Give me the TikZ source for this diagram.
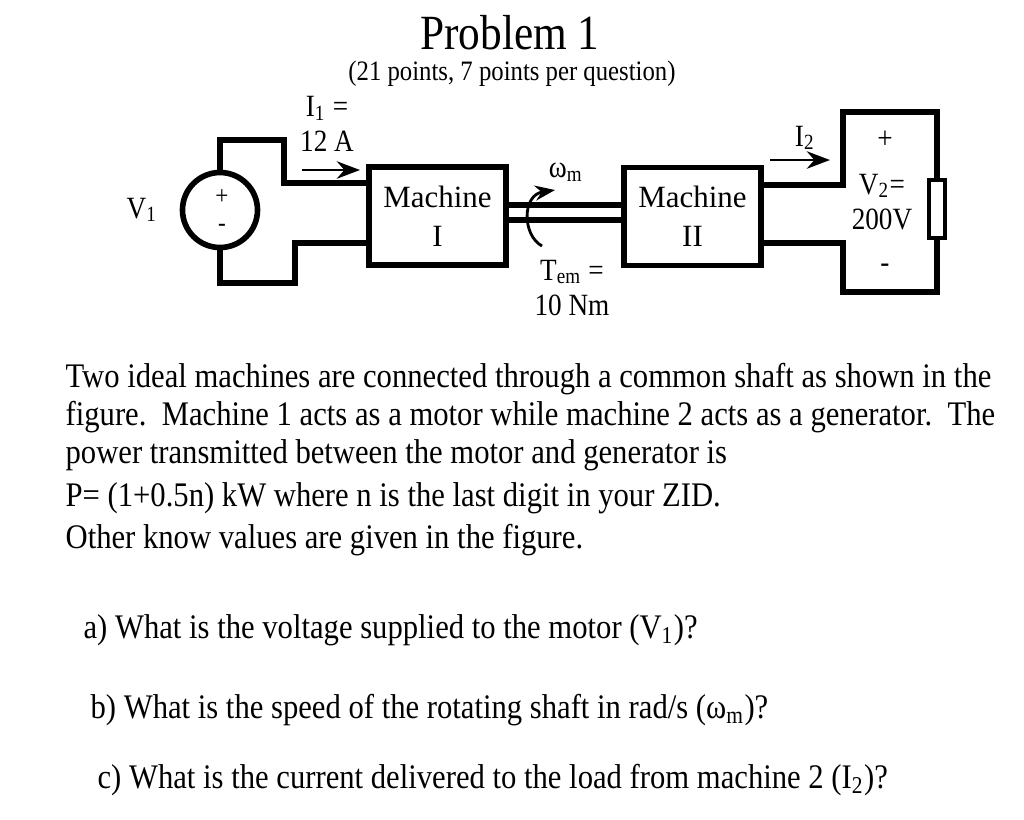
\documentclass[tikz,border=0pt]{standalone}
\usepackage{fontspec}
\setmainfont{Liberation Serif}
\usetikzlibrary{positioning, arrows.meta}

\begin{document}
\begin{tikzpicture}[
    wire/.style={line width=1.6pt},
    machine/.style={rectangle, draw=black, line width=1.6pt, minimum width=1.37cm, minimum height=0.98cm, align=center, font=\fontsize{8.8}{11}\selectfont, inner sep=0pt},
    lbl/.style={font=\fontsize{8.8}{10}\selectfont, xscale=.88, transform shape, inner sep=0pt},
    txt/.style={anchor=base west, font=\fontsize{9.8}{12}\selectfont, xscale=.89, transform shape, inner sep=0pt},
    arrow/.style={-Stealth, thick}
]
\useasboundingbox (0,0) rectangle (10.24,-8.19);

% Titel
\node[lbl, font=\fontsize{14}{16}\selectfont] (title) at (5.1,-0.33) {Problem 1};
\node[lbl, font=\fontsize{8}{10}\selectfont] (sub) at (5.12,-0.74) {(21 points, 7 points per question)};

% Quelle
\node[circle, draw, line width=1.6pt, minimum size=0.75cm, inner sep=0pt] (src) at (2.2,-2.1) {};
\node[lbl, font=\fontsize{7.5}{9}\selectfont] (srcp) at (2.22,-1.97) {+};
\node[lbl, font=\fontsize{7.5}{9}\selectfont] (srcm) at (2.22,-2.28) {-};
\node[lbl] (v1) at (1.42,-2.1) {V\textsubscript{1}};

% Maschinen
\node[machine] (m1) at (4.375,-2.16) {Machine\\I};
\node[machine] (m2) at (6.925,-2.165) {Machine\\II};

% Leitungen links
\draw[wire] (src.north) |- (2.84,-1.4) |- (m1.west |- 0,-1.83);
\draw[wire] (src.south) |- (2.95,-2.83) |- (m1.west |- 0,-2.43);

% Welle
\draw[wire] (m1.east |- 0,-2.05) -- (m2.west |- 0,-2.05);
\draw[wire] (m1.east |- 0,-2.2) -- (m2.west |- 0,-2.2);
\coordinate (rotA) at (5.42,-2.46);
\coordinate (rotB) at (5.55,-1.9);
\draw[thick, -{Stealth[length=2mm]}] (rotA) .. controls (5.22,-2.35) and (5.22,-1.95) .. (rotB);
\node[lbl] (wm) at (5.66,-1.72) {ω\textsubscript{m}};
\node[lbl, align=center] (tem) at (5.72,-2.88) {T\textsubscript{em} =\\10 Nm};

% Stroeme
\node[lbl, align=center] (i1) at (3.27,-1.24) {I\textsubscript{1} =\\12 A};
\coordinate (i1a) at (3.02,-1.7);
\coordinate (i1b) at (3.6,-1.7);
\draw[arrow] (i1a) -- (i1b);
\node[lbl] (i2) at (8.05,-1.38) {I\textsubscript{2}};
\coordinate (i2a) at (7.7,-1.6);
\coordinate (i2b) at (8.3,-1.6);
\draw[arrow] (i2a) -- (i2b);

% Last
\node[rectangle, draw, line width=1.2pt, minimum width=0.16cm, minimum height=0.58cm, inner sep=0pt] (load) at (9.37,-2.09) {};
\draw[wire] (m2.east |- 0,-1.85) -| (8.43,-1.12) -| (load.north);
\draw[wire] (m2.east |- 0,-2.43) -| (8.43,-2.92) -| (load.south);
\node[lbl] (v2p) at (8.85,-1.4) {+};
\node[lbl, align=center] (v2) at (8.82,-2.02) {V\textsubscript{2}=\\200V};
\node[lbl] (v2m) at (8.85,-2.68) {-};

% Text
\node[txt] (t1) at (0.65,-3.87) {Two ideal machines are connected through a common shaft as shown in the};
\node[txt] (t2) at (0.65,-4.25) {figure.\ \ Machine 1 acts as a motor while machine 2 acts as a generator.\ \ The};
\node[txt] (t3) at (0.65,-4.63) {power transmitted between the motor and generator is};
\node[txt] (t4) at (0.65,-5.06) {P= (1+0.5n) kW where n is the last digit in your ZID.};
\node[txt] (t5) at (0.65,-5.48) {Other know values are given in the figure.};
\node[txt] (qa) at (0.83,-6.38) {a) What is the voltage supplied to the motor (V\textsubscript{1})?};
\node[txt] (qb) at (0.9,-7.18) {b) What is the speed of the rotating shaft in rad/s (ω\textsubscript{m})?};
\node[txt] (qc) at (0.97,-7.88) {c) What is the current delivered to the load from machine 2 (I\textsubscript{2})?};
\end{tikzpicture}
\end{document}
